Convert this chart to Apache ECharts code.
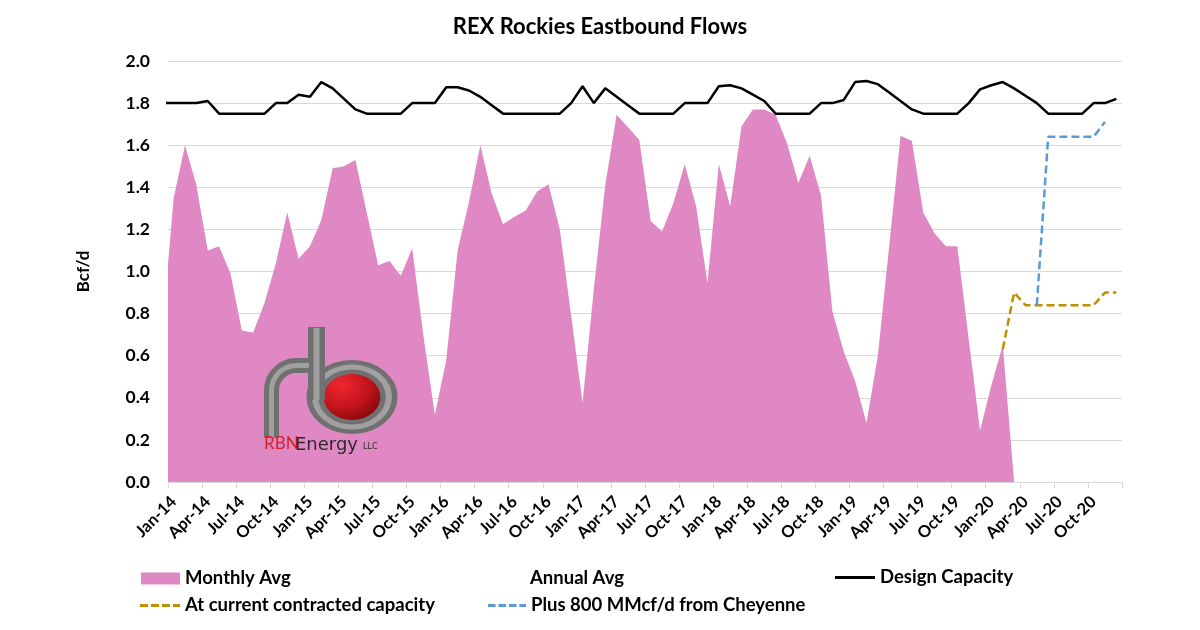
<!DOCTYPE html>
<html>
<head>
<meta charset="utf-8">
<title>REX Rockies Eastbound Flows</title>
<script src="https://cdn.jsdelivr.net/npm/echarts@6/dist/echarts.min.js"></script>
<style>body{margin:0;background:#fff;}</style>
</head>
<body>
<div id="main" style="width:1200px;height:630px;"></div>
<script>
// month labels Jan-14 .. Dec-20
var monthNames = ['Jan','Feb','Mar','Apr','May','Jun','Jul','Aug','Sep','Oct','Nov','Dec'];
var years = ['14','15','16','17','18','19','20'];
var months = [];
years.forEach(function (y) {
    monthNames.forEach(function (m) { months.push(m + '-' + y); });
});

var yTicks = [0, 0.2, 0.4, 0.6, 0.8, 1.0, 1.2, 1.4, 1.6, 1.8, 2.0];

// Monthly Avg, Bcf/d, Jan-14 .. Mar-20 (Dec-13 only shows as the clipped left edge)
var flowDec13 = 0.72;
var monthlyAvg = [
    1.35, 1.60, 1.41, 1.10, 1.12, 0.99, 0.72, 0.71, 0.85, 1.04, 1.28, 1.06,
    1.12, 1.245, 1.49, 1.50, 1.53, 1.28, 1.03, 1.05, 0.98, 1.11, 0.69, 0.32,
    0.58, 1.10, 1.33, 1.60, 1.37, 1.225, 1.26, 1.29, 1.38, 1.415, 1.20, 0.79,
    0.375, 0.92, 1.41, 1.745, 1.685, 1.625, 1.24, 1.19, 1.325, 1.51, 1.31, 0.945,
    1.51, 1.31, 1.69, 1.77, 1.77, 1.745, 1.61, 1.42, 1.55, 1.36, 0.81, 0.62,
    0.48, 0.28, 0.60, 1.12, 1.645, 1.62, 1.28, 1.18, 1.12, 1.12, 0.68, 0.245,
    0.46, 0.65, 0.00
];

// Design Capacity, Jan-14 .. Dec-20
var capDec13 = 1.80;
var designCapacity = [
    1.80, 1.80, 1.80, 1.81, 1.75, 1.75, 1.75, 1.75, 1.75, 1.80, 1.80, 1.84,
    1.83, 1.90, 1.87, 1.82, 1.77, 1.75, 1.75, 1.75, 1.75, 1.80, 1.80, 1.80,
    1.875, 1.875, 1.86, 1.83, 1.79, 1.75, 1.75, 1.75, 1.75, 1.75, 1.75, 1.80,
    1.88, 1.80, 1.87, 1.83, 1.79, 1.75, 1.75, 1.75, 1.75, 1.80, 1.80, 1.80,
    1.88, 1.885, 1.87, 1.84, 1.81, 1.75, 1.75, 1.75, 1.75, 1.80, 1.80, 1.815,
    1.90, 1.905, 1.89, 1.85, 1.81, 1.77, 1.75, 1.75, 1.75, 1.75, 1.80, 1.865,
    1.885, 1.90, 1.87, 1.835, 1.80, 1.75, 1.75, 1.75, 1.75, 1.80, 1.80, 1.82
];

// projections
var contractedStart = 'Feb-20';
var contracted = [0.63, 0.90, 0.84, 0.84, 0.84, 0.84, 0.84, 0.84, 0.84, 0.90, 0.90];
var cheyenneStart = 'May-20';
var cheyenne = [0.84, 1.64, 1.64, 1.64, 1.64, 1.64, 1.71];

// month index -> x value in the middle of the month
function points(values, startLabel, prev) {
    var start = months.indexOf(startLabel);
    var pts = [];
    if (prev != null) pts.push([start - 0.5, prev]);
    values.forEach(function (v, i) { pts.push([start + i + 0.5, v]); });
    return pts;
}

var font = 'Lato, "Liberation Sans", Arial, sans-serif';
var gray = '#D9D9D9';
var dashIcon = 'path://M0,0h8v3h-8z M11,0h8v3h-8z M22,0h8v3h-8z M33,0h7v3h-7z';
var solidIcon = 'path://M0,0h40v3h-40z';
var logoFont = '"DejaVu Sans", sans-serif';

var myChart = echarts.init(document.getElementById('main'));

function legendItem(name, icon, left, top, w, h) {
    return {
        data: [{name: name, icon: icon}],
        left: left, top: top,
        itemWidth: w, itemHeight: h,
        itemGap: 0, padding: 0,
        selectedMode: false,
        textStyle: {fontFamily: font, fontSize: 18.5, fontWeight: 'bold', color: '#000'}
    };
}

var option = {
    backgroundColor: '#fff',
    animation: false,
    title: {
        text: 'REX Rockies Eastbound Flows',
        left: 'center', top: 11,
        textStyle: {fontFamily: font, fontSize: 22, fontWeight: 'bold', color: '#000'}
    },
    grid: {left: 168, right: 78, top: 61, bottom: 148, containLabel: false},
    legend: [
        legendItem('Monthly Avg', 'rect', 141, 569, 39, 12),
        legendItem('Annual Avg', 'none', 485, 569, 40, 3),
        legendItem('Design Capacity', solidIcon, 835, 568, 40, 3),
        legendItem('At current contracted capacity', dashIcon, 140, 596, 40, 3),
        legendItem('Plus 800 MMcf/d from Cheyenne', dashIcon, 488, 596, 38, 3)
    ],
    xAxis: [{
        type: 'value',
        min: 0, max: 84, interval: 3,
        axisLine: {show: true, lineStyle: {color: gray, width: 1}},
        axisTick: {show: true, length: 6, lineStyle: {color: gray}},
        axisLabel: {show: false},
        splitLine: {show: false}
    }, {
        type: 'category',
        position: 'bottom',
        data: months,
        boundaryGap: true,
        axisLine: {show: false},
        axisTick: {show: false},
        splitLine: {show: false},
        axisLabel: {
            interval: 2, rotate: 45, margin: 17,
            fontFamily: font, fontSize: 16.5, fontWeight: 'bold', color: '#000'
        }
    }],
    yAxis: {
        type: 'value',
        min: yTicks[0], max: yTicks[yTicks.length - 1], interval: 0.2,
        name: 'Bcf/d', nameLocation: 'middle', nameGap: 76,
        nameTextStyle: {fontFamily: font, fontSize: 17, fontWeight: 'bold', color: '#000'},
        axisLine: {show: false},
        axisTick: {show: false},
        axisLabel: {
            margin: 18, fontFamily: font, fontSize: 17.5, fontWeight: 'bold', color: '#000',
            formatter: function (v) { return v.toFixed(1); }
        },
        splitLine: {lineStyle: {color: gray, width: 1}}
    },
    series: [{
        name: 'Monthly Avg',
        type: 'line',
        xAxisIndex: 0,
        data: points(monthlyAvg, 'Jan-14', flowDec13),
        symbol: 'none',
        color: '#E088C3',
        lineStyle: {width: 0, color: '#E088C3'},
        areaStyle: {color: '#E088C3', opacity: 1},
        itemStyle: {color: '#E088C3'},
        z: 1
    }, {
        name: 'Annual Avg',
        type: 'line',
        xAxisIndex: 0,
        data: [],
        symbol: 'none',
        lineStyle: {color: 'rgba(0,0,0,0)'},
        itemStyle: {color: 'rgba(0,0,0,0)'}
    }, {
        name: 'Design Capacity',
        type: 'line',
        xAxisIndex: 0,
        data: points(designCapacity, 'Jan-14', capDec13),
        symbol: 'none',
        color: '#000',
        lineStyle: {width: 2.5, color: '#000'},
        itemStyle: {color: '#000'},
        z: 3
    }, {
        name: 'At current contracted capacity',
        type: 'line',
        xAxisIndex: 0,
        data: points(contracted, contractedStart),
        symbol: 'none',
        color: '#BF9000',
        lineStyle: {width: 2.5, color: '#BF9000', type: [8, 4]},
        itemStyle: {color: '#BF9000'},
        z: 3
    }, {
        name: 'Plus 800 MMcf/d from Cheyenne',
        type: 'line',
        xAxisIndex: 0,
        data: points(cheyenne, cheyenneStart),
        symbol: 'none',
        color: '#5B9BD5',
        lineStyle: {width: 2.5, color: '#5B9BD5', type: [8, 4]},
        itemStyle: {color: '#5B9BD5'},
        z: 3
    }],
    // RBN Energy logo
    graphic: [{
        type: 'circle', z: 100,
        shape: {cx: 352, cy: 397, r: 29},
        scaleX: 1.2, originX: 352, originY: 397,
        style: {
            fill: {
                type: 'radial', x: 0.35, y: 0.3, r: 0.8,
                colorStops: [{offset: 0, color: '#F2262E'}, {offset: 0.5, color: '#C0141C'}, {offset: 1, color: '#6A0000'}]
            }
        }
    }, {
        type: 'arc', z: 101,
        shape: {cx: 352, cy: 397, r: 30, startAngle: 0, endAngle: Math.PI * 2},
        scaleX: 1.23, originX: 352, originY: 397,
        style: {stroke: '#707070', lineWidth: 14, fill: null}
    }, {
        type: 'arc', z: 102,
        shape: {cx: 352, cy: 397, r: 30, startAngle: 0, endAngle: Math.PI * 2},
        scaleX: 1.23, originX: 352, originY: 397,
        style: {stroke: '#A0A0A0', lineWidth: 5, fill: null}
    }, {
        type: 'line', z: 103,
        shape: {x1: 316.5, y1: 327, x2: 316.5, y2: 400},
        style: {stroke: '#707070', lineWidth: 17}
    }, {
        type: 'line', z: 104,
        shape: {x1: 316.5, y1: 328, x2: 316.5, y2: 400},
        style: {stroke: '#A0A0A0', lineWidth: 6}
    }, {
        type: 'arc', z: 103,
        shape: {cx: 296.5, cy: 390.5, r: 25, startAngle: Math.PI, endAngle: Math.PI * 1.5},
        style: {stroke: '#707070', lineWidth: 15, fill: null}
    }, {
        type: 'line', z: 103,
        shape: {x1: 296, y1: 365.5, x2: 310, y2: 365.5},
        style: {stroke: '#707070', lineWidth: 15}
    }, {
        type: 'line', z: 103,
        shape: {x1: 271.5, y1: 390, x2: 271.5, y2: 438},
        style: {stroke: '#707070', lineWidth: 15}
    }, {
        type: 'arc', z: 104,
        shape: {cx: 296.5, cy: 390.5, r: 25, startAngle: Math.PI, endAngle: Math.PI * 1.5},
        style: {stroke: '#A0A0A0', lineWidth: 5, fill: null}
    }, {
        type: 'line', z: 104,
        shape: {x1: 296, y1: 365.5, x2: 309, y2: 365.5},
        style: {stroke: '#A0A0A0', lineWidth: 5}
    }, {
        type: 'line', z: 104,
        shape: {x1: 271.5, y1: 390, x2: 271.5, y2: 437},
        style: {stroke: '#A0A0A0', lineWidth: 5}
    }, {
        type: 'text', z: 105, x: 264, y: 435,
        style: {text: 'RBN', fill: '#D2232A', fontSize: 17, fontFamily: 'Lato, sans-serif'}
    }, {
        type: 'text', z: 105, x: 295, y: 436,
        style: {text: 'Energy', fill: '#2b2b2b', fontSize: 18, fontFamily: logoFont}
    }, {
        type: 'text', z: 105, x: 363, y: 443,
        style: {text: 'LLC', fill: '#2b2b2b', fontSize: 8, fontFamily: logoFont}
    }]
};

myChart.setOption(option);
</script>
</body>
</html>
